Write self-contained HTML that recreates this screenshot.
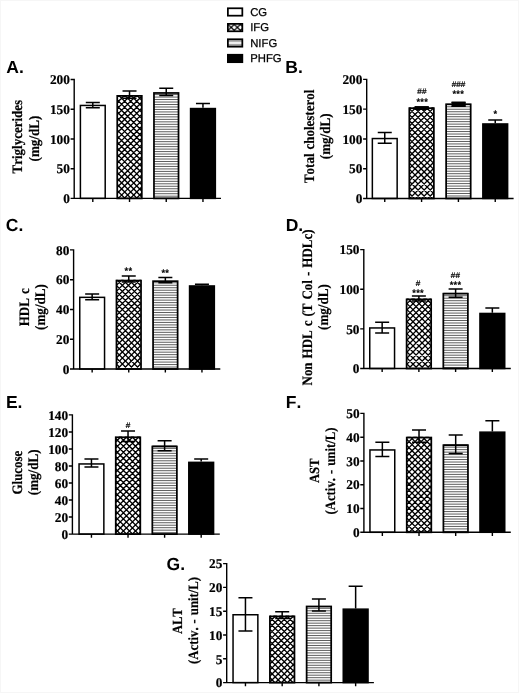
<!DOCTYPE html>
<html lang="en">
<head>
<meta charset="utf-8">
<title>Figure</title>
<style>
html,body{margin:0;padding:0;background:#fff;}
body{width:519px;height:693px;overflow:hidden;}
svg{display:block;}
text{fill:#000;font-kerning:none;text-rendering:geometricPrecision;}
</style>
</head>
<body>
<svg width="519" height="693" viewBox="0 0 519 693">
<defs><pattern id="xhl" width="6.2" height="6.2" patternUnits="userSpaceOnUse" patternTransform="translate(1.75 2.6)"><rect width="6.2" height="6.2" fill="#fff"/><path d="M-1 -1L7.2 7.2M-1 5.2L1 7.2M5.2 -1L7.2 1M-1 7.2L7.2 -1M-1 1L1 -1M5.2 7.2L7.2 5.2" stroke="#000" stroke-width="1.25" fill="none"/></pattern><clipPath id="c0"><rect x="117.25" y="95" width="24.55" height="103.4"/></clipPath><clipPath id="c1"><rect x="409.31" y="107.3" width="24.55" height="91.15"/></clipPath><clipPath id="c2"><rect x="116.47" y="279.7" width="24.55" height="89.3"/></clipPath><clipPath id="c3"><rect x="406.61" y="298.5" width="24.55" height="70"/></clipPath><clipPath id="c4"><rect x="115.75" y="436.4" width="24.55" height="97.7"/></clipPath><clipPath id="c5"><rect x="406.75" y="436.7" width="24.55" height="95.6"/></clipPath><clipPath id="c6"><rect x="269.91" y="615.5" width="24.55" height="67.1"/></clipPath></defs>
<rect x="0.5" y="0.5" width="518" height="692" fill="#fff" stroke="#f6f6f6"/>
<g><rect x="227.88" y="8.28" width="14.45" height="7.4" fill="#fff" stroke="#000" stroke-width="1.75"/>
<text x="250.2" y="15.7" font-family='"Liberation Sans", Arial, Helvetica, sans-serif' font-size="11.3" stroke="#000" stroke-width="0.25">CG</text>
<rect x="227.88" y="23.88" width="14.45" height="7.4" fill="url(#xhl)" stroke="#000" stroke-width="1.75"/>
<text x="250.2" y="31.3" font-family='"Liberation Sans", Arial, Helvetica, sans-serif' font-size="11.3" stroke="#000" stroke-width="0.25">IFG</text>
<rect x="228" y="39.9" width="14.5" height="2.3" fill="#b2b2b2"/><rect x="228" y="43.8" width="14.5" height="2.4" fill="#a6a6a6"/>
<rect x="227.88" y="39.27" width="14.45" height="7.4" fill="none" stroke="#000" stroke-width="1.75"/>
<text x="250.2" y="46.7" font-family='"Liberation Sans", Arial, Helvetica, sans-serif' font-size="11.3" stroke="#000" stroke-width="0.25">NIFG</text>
<rect x="227.88" y="54.77" width="14.45" height="7.4" fill="#000" stroke="#000" stroke-width="1.75"/>
<text x="250.2" y="62.2" font-family='"Liberation Sans", Arial, Helvetica, sans-serif' font-size="11.3" stroke="#000" stroke-width="0.25">PHFG</text></g>
<g><rect x="80.4" y="105.45" width="24.8" height="92.95" fill="#fff" stroke="#000" stroke-width="1.5"/>
<path d="M92.8 102.5V107.7 M85.8 102.5H99.8 M85.8 107.7H99.8" fill="none" stroke="#000" stroke-width="1.5"/>
<rect x="117.25" y="95.88" width="24.55" height="102.53" fill="#fff"/>
<path clip-path="url(#c0)" d="M116.37 201.84L142.67 228.15M116.37 195.8L142.67 222.1M116.37 189.75L142.67 216.05M116.37 183.69L142.67 210M116.37 177.65L142.67 203.95M116.37 171.6L142.67 197.9M116.37 165.55L142.67 191.85M116.37 159.5L142.67 185.8M116.37 153.45L142.67 179.75M116.37 147.4L142.67 173.7M116.37 141.35L142.67 167.65M116.37 135.3L142.67 161.6M116.37 129.25L142.67 155.55M116.37 123.2L142.67 149.5M116.37 117.15L142.67 143.45M116.37 111.1L142.67 137.4M116.37 105.05L142.67 131.35M116.37 99L142.67 125.3M116.37 92.95L142.67 119.25M116.37 86.9L142.67 113.2M116.37 80.85L142.67 107.15M116.37 74.8L142.67 101.1M116.37 68.75L142.67 95.05M116.37 62.7L142.67 89M116.37 91.31L142.67 65M116.37 97.36L142.67 71.06M116.37 103.41L142.67 77.11M116.37 109.46L142.67 83.16M116.37 115.51L142.67 89.21M116.37 121.56L142.67 95.26M116.37 127.61L142.67 101.31M116.37 133.66L142.67 107.36M116.37 139.71L142.67 113.41M116.37 145.76L142.67 119.46M116.37 151.81L142.67 125.51M116.37 157.86L142.67 131.56M116.37 163.91L142.67 137.61M116.37 169.96L142.67 143.66M116.37 176.01L142.67 149.71M116.37 182.06L142.67 155.76M116.37 188.11L142.67 161.81M116.37 194.16L142.67 167.86M116.37 200.21L142.67 173.91M116.37 206.26L142.67 179.96M116.37 212.31L142.67 186.01M116.37 218.36L142.67 192.06M116.37 224.41L142.67 198.11M116.37 230.46L142.67 204.16" fill="none" stroke="#000" stroke-width="1.35"/>
<rect x="117.25" y="95.88" width="24.55" height="102.53" fill="none" stroke="#000" stroke-width="1.75"/>
<path d="M129.52 91V98.2 M122.52 91H136.52 M122.52 98.2H136.52" fill="none" stroke="#000" stroke-width="1.5"/>
<path d="M153.97 94.59H178.52M153.97 97.07H178.52M153.97 99.54H178.52M153.97 102.02H178.52M153.97 104.5H178.52M153.97 106.98H178.52M153.97 109.46H178.52M153.97 111.93H178.52M153.97 114.41H178.52M153.97 116.89H178.52M153.97 119.37H178.52M153.97 121.85H178.52M153.97 124.32H178.52M153.97 126.8H178.52M153.97 129.28H178.52M153.97 131.76H178.52M153.97 134.24H178.52M153.97 136.71H178.52M153.97 139.19H178.52M153.97 141.67H178.52M153.97 144.15H178.52M153.97 146.63H178.52M153.97 149.1H178.52M153.97 151.58H178.52M153.97 154.06H178.52M153.97 156.54H178.52M153.97 159.02H178.52M153.97 161.49H178.52M153.97 163.97H178.52M153.97 166.45H178.52M153.97 168.93H178.52M153.97 171.41H178.52M153.97 173.88H178.52M153.97 176.36H178.52M153.97 178.84H178.52M153.97 181.32H178.52M153.97 183.8H178.52M153.97 186.27H178.52M153.97 188.75H178.52M153.97 191.23H178.52M153.97 193.71H178.52M153.97 196.19H178.52" fill="none" stroke="#5e5e5e" stroke-width="1"/>
<rect x="153.97" y="92.97" width="24.55" height="105.43" fill="none" stroke="#000" stroke-width="1.75"/>
<path d="M166.24 88.2V95.4 M159.24 88.2H173.24 M159.24 95.4H173.24" fill="none" stroke="#000" stroke-width="1.5"/>
<rect x="190.56" y="108.55" width="24.8" height="89.85" fill="#000" stroke="#000" stroke-width="1.5"/>
<path d="M202.96 103.6V107.8 M195.96 103.6H209.96" fill="none" stroke="#000" stroke-width="1.5"/>
<path d="M74.2 78.8V198.4H221 M70.6 79.5H74.2 M70.6 109.22H74.2 M70.6 138.95H74.2 M70.6 168.68H74.2 M70.6 198.4H74.2 M92.8 198.4V202 M129.52 198.4V202 M166.24 198.4V202 M202.96 198.4V202" fill="none" stroke="#000" stroke-width="1.4"/>
<g font-family='"Liberation Serif", "Times New Roman", Times, serif' font-weight="bold" font-size="13.3" text-anchor="end" stroke="#000" stroke-width="0.2"><text transform="translate(69.9 84.2) scale(1 1)">200</text><text transform="translate(69.9 113.92) scale(1 1)">150</text><text transform="translate(69.9 143.65) scale(1 1)">100</text><text transform="translate(69.9 173.38) scale(1 1)">50</text><text transform="translate(69.9 203.1) scale(1 1)">0</text></g>
<text transform="translate(22.1 136.7) rotate(-90) scale(0.9 1)" font-family='"Liberation Serif", "Times New Roman", Times, serif' font-weight="bold" font-size="14.4" word-spacing="0.9" text-anchor="middle" stroke="#000" stroke-width="0.2">Triglycerides</text>
<text transform="translate(38.5 138.5) rotate(-90) scale(0.9 1)" font-family='"Liberation Serif", "Times New Roman", Times, serif' font-weight="bold" font-size="14.54" word-spacing="0.9" text-anchor="middle" stroke="#000" stroke-width="0.2">(mg/dL)</text>
<text x="6.3" y="72.8" font-family='"Liberation Sans", Arial, Helvetica, sans-serif' font-weight="bold" font-size="17.5">A.</text></g>
<g><rect x="372.35" y="138.55" width="24.8" height="59.9" fill="#fff" stroke="#000" stroke-width="1.5"/>
<path d="M384.75 132.4V143.2 M377.75 132.4H391.75 M377.75 143.2H391.75" fill="none" stroke="#000" stroke-width="1.5"/>
<rect x="409.31" y="108.17" width="24.55" height="90.27" fill="#fff"/>
<path clip-path="url(#c1)" d="M408.43 198.56L434.73 224.86M408.43 192.5L434.73 218.81M408.43 186.45L434.73 212.75M408.43 180.4L434.73 206.7M408.43 174.35L434.73 200.65M408.43 168.3L434.73 194.6M408.43 162.25L434.73 188.55M408.43 156.2L434.73 182.5M408.43 150.15L434.73 176.45M408.43 144.1L434.73 170.4M408.43 138.05L434.73 164.35M408.43 132L434.73 158.3M408.43 125.95L434.73 152.25M408.43 119.9L434.73 146.2M408.43 113.85L434.73 140.15M408.43 107.8L434.73 134.1M408.43 101.75L434.73 128.05M408.43 95.7L434.73 122M408.43 89.65L434.73 115.95M408.43 83.6L434.73 109.9M408.43 77.55L434.73 103.85M408.43 102.89L434.73 76.59M408.43 108.94L434.73 82.64M408.43 114.99L434.73 88.69M408.43 121.04L434.73 94.74M408.43 127.09L434.73 100.79M408.43 133.14L434.73 106.84M408.43 139.19L434.73 112.89M408.43 145.24L434.73 118.94M408.43 151.29L434.73 124.99M408.43 157.34L434.73 131.04M408.43 163.39L434.73 137.09M408.43 169.44L434.73 143.14M408.43 175.49L434.73 149.19M408.43 181.54L434.73 155.24M408.43 187.59L434.73 161.29M408.43 193.64L434.73 167.34M408.43 199.69L434.73 173.39M408.43 205.74L434.73 179.44M408.43 211.79L434.73 185.49M408.43 217.84L434.73 191.54M408.43 223.89L434.73 197.59M408.43 229.94L434.73 203.64" fill="none" stroke="#000" stroke-width="1.35"/>
<rect x="409.31" y="108.17" width="24.55" height="90.27" fill="none" stroke="#000" stroke-width="1.75"/>
<path d="M421.58 106.9V109.2 M414.58 106.9H428.58 M414.58 109.2H428.58" fill="none" stroke="#000" stroke-width="1.5"/>
<path d="M446.13 104.31H470.69M446.13 106.78H470.69M446.13 109.26H470.69M446.13 111.74H470.69M446.13 114.22H470.69M446.13 116.7H470.69M446.13 119.17H470.69M446.13 121.65H470.69M446.13 124.13H470.69M446.13 126.61H470.69M446.13 129.09H470.69M446.13 131.56H470.69M446.13 134.04H470.69M446.13 136.52H470.69M446.13 139H470.69M446.13 141.48H470.69M446.13 143.95H470.69M446.13 146.43H470.69M446.13 148.91H470.69M446.13 151.39H470.69M446.13 153.87H470.69M446.13 156.34H470.69M446.13 158.82H470.69M446.13 161.3H470.69M446.13 163.78H470.69M446.13 166.26H470.69M446.13 168.73H470.69M446.13 171.21H470.69M446.13 173.69H470.69M446.13 176.17H470.69M446.13 178.65H470.69M446.13 181.12H470.69M446.13 183.6H470.69M446.13 186.08H470.69M446.13 188.56H470.69M446.13 191.04H470.69M446.13 193.51H470.69M446.13 195.99H470.69" fill="none" stroke="#5e5e5e" stroke-width="1"/>
<rect x="446.13" y="104.28" width="24.55" height="94.17" fill="none" stroke="#000" stroke-width="1.75"/>
<path d="M458.41 102.4V106.2 M451.41 102.4H465.41 M451.41 106.2H465.41" fill="none" stroke="#000" stroke-width="1.5"/>
<rect x="482.84" y="123.95" width="24.8" height="74.5" fill="#000" stroke="#000" stroke-width="1.5"/>
<path d="M495.24 120V123.2 M488.24 120H502.24" fill="none" stroke="#000" stroke-width="1.5"/>
<rect x="414.8" y="106.2" width="14" height="3.5" fill="#000"/>
<rect x="451.7" y="101.7" width="14" height="5.2" fill="#000"/>
<path d="M366.7 78.7V198.45H513.6 M363.1 79.4H366.7 M363.1 109.16H366.7 M363.1 138.93H366.7 M363.1 168.69H366.7 M363.1 198.45H366.7 M384.75 198.45V202.05 M421.58 198.45V202.05 M458.41 198.45V202.05 M495.24 198.45V202.05" fill="none" stroke="#000" stroke-width="1.4"/>
<g font-family='"Liberation Serif", "Times New Roman", Times, serif' font-weight="bold" font-size="13.3" text-anchor="end" stroke="#000" stroke-width="0.2"><text transform="translate(362.4 84.1) scale(1 1)">200</text><text transform="translate(362.4 113.86) scale(1 1)">150</text><text transform="translate(362.4 143.62) scale(1 1)">100</text><text transform="translate(362.4 173.39) scale(1 1)">50</text><text transform="translate(362.4 203.15) scale(1 1)">0</text></g>
<text transform="translate(314.2 136.4) rotate(-90) scale(0.9 1)" font-family='"Liberation Serif", "Times New Roman", Times, serif' font-weight="bold" font-size="14.4" word-spacing="0.9" text-anchor="middle" stroke="#000" stroke-width="0.2">Total cholesterol</text>
<text transform="translate(330.2 136.3) rotate(-90) scale(0.9 1)" font-family='"Liberation Serif", "Times New Roman", Times, serif' font-weight="bold" font-size="14.54" word-spacing="0.9" text-anchor="middle" stroke="#000" stroke-width="0.2">(mg/dL)</text>
<text x="285.3" y="72.9" font-family='"Liberation Sans", Arial, Helvetica, sans-serif' font-weight="bold" font-size="17.5">B.</text>
<text x="421.9" y="94.4" font-family='"Liberation Sans", Arial, Helvetica, sans-serif' font-size="8.2" stroke="#000" stroke-width="0.2" text-anchor="middle">##</text>
<text x="422.32" y="104.7" font-family='"Liberation Sans", Arial, Helvetica, sans-serif' font-size="9.4" letter-spacing="0.25" stroke="#000" stroke-width="0.35" text-anchor="middle">***</text>
<text x="458.6" y="87.2" font-family='"Liberation Sans", Arial, Helvetica, sans-serif' font-size="8.2" stroke="#000" stroke-width="0.2" text-anchor="middle">###</text>
<text x="458.32" y="97" font-family='"Liberation Sans", Arial, Helvetica, sans-serif' font-size="9.4" letter-spacing="0.25" stroke="#000" stroke-width="0.35" text-anchor="middle">***</text>
<text x="495.52" y="117" font-family='"Liberation Sans", Arial, Helvetica, sans-serif' font-size="9.4" letter-spacing="0.25" stroke="#000" stroke-width="0.35" text-anchor="middle">*</text></g>
<g><rect x="79.75" y="297.35" width="24.8" height="71.65" fill="#fff" stroke="#000" stroke-width="1.5"/>
<path d="M92.15 294.1V299.7 M85.15 294.1H99.15 M85.15 299.7H99.15" fill="none" stroke="#000" stroke-width="1.5"/>
<rect x="116.47" y="280.57" width="24.55" height="88.43" fill="#fff"/>
<path clip-path="url(#c2)" d="M115.6 369.32L141.9 395.62M115.6 363.27L141.9 389.57M115.6 357.22L141.9 383.52M115.6 351.17L141.9 377.47M115.6 345.12L141.9 371.42M115.6 339.07L141.9 365.37M115.6 333.02L141.9 359.32M115.6 326.97L141.9 353.27M115.6 320.92L141.9 347.22M115.6 314.87L141.9 341.17M115.6 308.82L141.9 335.12M115.6 302.77L141.9 329.07M115.6 296.72L141.9 323.02M115.6 290.67L141.9 316.97M115.6 284.62L141.9 310.92M115.6 278.57L141.9 304.87M115.6 272.52L141.9 298.82M115.6 266.47L141.9 292.77M115.6 260.42L141.9 286.72M115.6 254.37L141.9 280.67M115.6 248.32L141.9 274.62M115.6 273.97L141.9 247.67M115.6 280.02L141.9 253.72M115.6 286.07L141.9 259.77M115.6 292.12L141.9 265.82M115.6 298.17L141.9 271.88M115.6 304.23L141.9 277.92M115.6 310.27L141.9 283.98M115.6 316.33L141.9 290.02M115.6 322.38L141.9 296.08M115.6 328.43L141.9 302.12M115.6 334.48L141.9 308.18M115.6 340.53L141.9 314.23M115.6 346.58L141.9 320.28M115.6 352.63L141.9 326.33M115.6 358.68L141.9 332.38M115.6 364.73L141.9 338.43M115.6 370.78L141.9 344.48M115.6 376.83L141.9 350.53M115.6 382.88L141.9 356.58M115.6 388.93L141.9 362.63M115.6 394.98L141.9 368.68M115.6 401.03L141.9 374.73" fill="none" stroke="#000" stroke-width="1.35"/>
<rect x="116.47" y="280.57" width="24.55" height="88.43" fill="none" stroke="#000" stroke-width="1.75"/>
<path d="M128.75 276V282.1 M121.75 276H135.75 M121.75 282.1H135.75" fill="none" stroke="#000" stroke-width="1.5"/>
<path d="M153.07 282.78H177.62M153.07 285.26H177.62M153.07 287.74H177.62M153.07 290.22H177.62M153.07 292.7H177.62M153.07 295.17H177.62M153.07 297.65H177.62M153.07 300.13H177.62M153.07 302.61H177.62M153.07 305.09H177.62M153.07 307.56H177.62M153.07 310.04H177.62M153.07 312.52H177.62M153.07 315H177.62M153.07 317.48H177.62M153.07 319.95H177.62M153.07 322.43H177.62M153.07 324.91H177.62M153.07 327.39H177.62M153.07 329.87H177.62M153.07 332.34H177.62M153.07 334.82H177.62M153.07 337.3H177.62M153.07 339.78H177.62M153.07 342.26H177.62M153.07 344.73H177.62M153.07 347.21H177.62M153.07 349.69H177.62M153.07 352.17H177.62M153.07 354.65H177.62M153.07 357.12H177.62M153.07 359.6H177.62M153.07 362.08H177.62M153.07 364.56H177.62M153.07 367.04H177.62" fill="none" stroke="#5e5e5e" stroke-width="1"/>
<rect x="153.07" y="281.18" width="24.55" height="87.82" fill="none" stroke="#000" stroke-width="1.75"/>
<path d="M165.35 277.5V282.7 M158.35 277.5H172.35 M158.35 282.7H172.35" fill="none" stroke="#000" stroke-width="1.5"/>
<rect x="189.55" y="285.95" width="24.8" height="83.05" fill="#000" stroke="#000" stroke-width="1.5"/>
<path d="M201.95 284.3V285.2 M194.95 284.3H208.95" fill="none" stroke="#000" stroke-width="1.5"/>
<path d="M73.6 249.2V369H220.3 M70 249.9H73.6 M70 279.68H73.6 M70 309.45H73.6 M70 339.23H73.6 M70 369H73.6 M92.15 369V372.6 M128.75 369V372.6 M165.35 369V372.6 M201.95 369V372.6" fill="none" stroke="#000" stroke-width="1.4"/>
<g font-family='"Liberation Serif", "Times New Roman", Times, serif' font-weight="bold" font-size="13.3" text-anchor="end" stroke="#000" stroke-width="0.2"><text transform="translate(69.3 254.6) scale(1 1)">80</text><text transform="translate(69.3 284.38) scale(1 1)">60</text><text transform="translate(69.3 314.15) scale(1 1)">40</text><text transform="translate(69.3 343.93) scale(1 1)">20</text><text transform="translate(69.3 373.7) scale(1 1)">0</text></g>
<text transform="translate(29.4 307.3) rotate(-90) scale(0.9 1)" font-family='"Liberation Serif", "Times New Roman", Times, serif' font-weight="bold" font-size="14.4" word-spacing="0.9" text-anchor="middle" stroke="#000" stroke-width="0.2">HDL c</text>
<text transform="translate(45.2 307) rotate(-90) scale(0.9 1)" font-family='"Liberation Serif", "Times New Roman", Times, serif' font-weight="bold" font-size="14.54" word-spacing="0.9" text-anchor="middle" stroke="#000" stroke-width="0.2">(mg/dL)</text>
<text x="5.8" y="230.9" font-family='"Liberation Sans", Arial, Helvetica, sans-serif' font-weight="bold" font-size="17.5">C.</text>
<text x="128.52" y="273.8" font-family='"Liberation Sans", Arial, Helvetica, sans-serif' font-size="9.4" letter-spacing="0.25" stroke="#000" stroke-width="0.35" text-anchor="middle">**</text>
<text x="165.32" y="275.6" font-family='"Liberation Sans", Arial, Helvetica, sans-serif' font-size="9.4" letter-spacing="0.25" stroke="#000" stroke-width="0.35" text-anchor="middle">**</text></g>
<g><rect x="369.75" y="327.95" width="24.8" height="40.55" fill="#fff" stroke="#000" stroke-width="1.5"/>
<path d="M382.15 322.3V333.1 M375.15 322.3H389.15 M375.15 333.1H389.15" fill="none" stroke="#000" stroke-width="1.5"/>
<rect x="406.61" y="299.38" width="24.55" height="69.12" fill="#fff"/>
<path clip-path="url(#c3)" d="M405.73 368.9L432.03 395.2M405.73 362.85L432.03 389.15M405.73 356.8L432.03 383.11M405.73 350.75L432.03 377.06M405.73 344.7L432.03 371M405.73 338.65L432.03 364.95M405.73 332.61L432.03 358.9M405.73 326.56L432.03 352.86M405.73 320.5L432.03 346.81M405.73 314.45L432.03 340.75M405.73 308.4L432.03 334.71M405.73 302.36L432.03 328.66M405.73 296.31L432.03 322.61M405.73 290.25L432.03 316.56M405.73 284.21L432.03 310.5M405.73 278.16L432.03 304.46M405.73 272.11L432.03 298.41M405.73 292.79L432.03 266.49M405.73 298.84L432.03 272.54M405.73 304.89L432.03 278.59M405.73 310.94L432.03 284.64M405.73 316.99L432.03 290.69M405.73 323.04L432.03 296.74M405.73 329.09L432.03 302.79M405.73 335.14L432.03 308.84M405.73 341.19L432.03 314.89M405.73 347.24L432.03 320.94M405.73 353.29L432.03 326.99M405.73 359.34L432.03 333.04M405.73 365.39L432.03 339.09M405.73 371.44L432.03 345.14M405.73 377.49L432.03 351.19M405.73 383.54L432.03 357.24M405.73 389.59L432.03 363.29M405.73 395.64L432.03 369.34" fill="none" stroke="#000" stroke-width="1.35"/>
<rect x="406.61" y="299.38" width="24.55" height="69.12" fill="none" stroke="#000" stroke-width="1.75"/>
<path d="M418.88 296V301 M411.88 296H425.88 M411.88 301H425.88" fill="none" stroke="#000" stroke-width="1.5"/>
<path d="M443.33 293.25H467.88M443.33 295.73H467.88M443.33 298.21H467.88M443.33 300.69H467.88M443.33 303.17H467.88M443.33 305.64H467.88M443.33 308.12H467.88M443.33 310.6H467.88M443.33 313.08H467.88M443.33 315.56H467.88M443.33 318.03H467.88M443.33 320.51H467.88M443.33 322.99H467.88M443.33 325.47H467.88M443.33 327.95H467.88M443.33 330.42H467.88M443.33 332.9H467.88M443.33 335.38H467.88M443.33 337.86H467.88M443.33 340.34H467.88M443.33 342.81H467.88M443.33 345.29H467.88M443.33 347.77H467.88M443.33 350.25H467.88M443.33 352.73H467.88M443.33 355.2H467.88M443.33 357.68H467.88M443.33 360.16H467.88M443.33 362.64H467.88M443.33 365.12H467.88M443.33 367.59H467.88" fill="none" stroke="#5e5e5e" stroke-width="1"/>
<rect x="443.33" y="293.68" width="24.55" height="74.82" fill="none" stroke="#000" stroke-width="1.75"/>
<path d="M455.61 289.1V297.3 M448.61 289.1H462.61 M448.61 297.3H462.61" fill="none" stroke="#000" stroke-width="1.5"/>
<rect x="479.94" y="313.45" width="24.8" height="55.05" fill="#000" stroke="#000" stroke-width="1.5"/>
<path d="M492.34 308V312.7 M485.34 308H499.34" fill="none" stroke="#000" stroke-width="1.5"/>
<path d="M363.8 248.9V368.5H510.8 M360.2 249.6H363.8 M360.2 289.23H363.8 M360.2 328.87H363.8 M360.2 368.5H363.8 M382.15 368.5V372.1 M418.88 368.5V372.1 M455.61 368.5V372.1 M492.34 368.5V372.1" fill="none" stroke="#000" stroke-width="1.4"/>
<g font-family='"Liberation Serif", "Times New Roman", Times, serif' font-weight="bold" font-size="13.3" text-anchor="end" stroke="#000" stroke-width="0.2"><text transform="translate(359.5 254.3) scale(1 1)">150</text><text transform="translate(359.5 293.93) scale(1 1)">100</text><text transform="translate(359.5 333.57) scale(1 1)">50</text><text transform="translate(359.5 373.2) scale(1 1)">0</text></g>
<text transform="translate(312 307.5) rotate(-90) scale(0.9 1)" font-family='"Liberation Serif", "Times New Roman", Times, serif' font-weight="bold" font-size="14.4" word-spacing="0.9" text-anchor="middle" stroke="#000" stroke-width="0.2">Non HDL c (T Col - HDLc)</text>
<text transform="translate(328.3 307.1) rotate(-90) scale(0.9 1)" font-family='"Liberation Serif", "Times New Roman", Times, serif' font-weight="bold" font-size="14.54" word-spacing="0.9" text-anchor="middle" stroke="#000" stroke-width="0.2">(mg/dL)</text>
<text x="285.7" y="230.9" font-family='"Liberation Sans", Arial, Helvetica, sans-serif' font-weight="bold" font-size="17.5">D.</text>
<text x="418" y="285.9" font-family='"Liberation Sans", Arial, Helvetica, sans-serif' font-size="8.2" stroke="#000" stroke-width="0.2" text-anchor="middle">#</text>
<text x="418.12" y="296" font-family='"Liberation Sans", Arial, Helvetica, sans-serif' font-size="9.4" letter-spacing="0.25" stroke="#000" stroke-width="0.35" text-anchor="middle">***</text>
<text x="455.4" y="278.4" font-family='"Liberation Sans", Arial, Helvetica, sans-serif' font-size="8.2" stroke="#000" stroke-width="0.2" text-anchor="middle">##</text>
<text x="455.52" y="288.1" font-family='"Liberation Sans", Arial, Helvetica, sans-serif' font-size="9.4" letter-spacing="0.25" stroke="#000" stroke-width="0.35" text-anchor="middle">***</text></g>
<g><rect x="79.05" y="463.95" width="24.8" height="70.15" fill="#fff" stroke="#000" stroke-width="1.5"/>
<path d="M91.45 459.1V466.9 M84.45 459.1H98.45 M84.45 466.9H98.45" fill="none" stroke="#000" stroke-width="1.5"/>
<rect x="115.75" y="437.27" width="24.55" height="96.83" fill="#fff"/>
<path clip-path="url(#c4)" d="M114.88 534.56L141.18 560.86M114.88 528.51L141.18 554.81M114.88 522.46L141.18 548.76M114.88 516.4L141.18 542.71M114.88 510.36L141.18 536.65M114.88 504.31L141.18 530.61M114.88 498.25L141.18 524.56M114.88 492.2L141.18 518.5M114.88 486.15L141.18 512.45M114.88 480.1L141.18 506.4M114.88 474.05L141.18 500.35M114.88 468L141.18 494.3M114.88 461.95L141.18 488.25M114.88 455.9L141.18 482.2M114.88 449.85L141.18 476.15M114.88 443.8L141.18 470.1M114.88 437.75L141.18 464.05M114.88 431.7L141.18 458M114.88 425.65L141.18 451.95M114.88 419.6L141.18 445.9M114.88 413.55L141.18 439.85M114.88 407.5L141.18 433.8M114.88 430.59L141.18 404.29M114.88 436.64L141.18 410.34M114.88 442.69L141.18 416.39M114.88 448.74L141.18 422.44M114.88 454.79L141.18 428.49M114.88 460.84L141.18 434.54M114.88 466.89L141.18 440.59M114.88 472.94L141.18 446.64M114.88 478.99L141.18 452.69M114.88 485.04L141.18 458.74M114.88 491.09L141.18 464.79M114.88 497.14L141.18 470.84M114.88 503.19L141.18 476.89M114.88 509.24L141.18 482.94M114.88 515.29L141.18 488.99M114.88 521.34L141.18 495.04M114.88 527.39L141.18 501.09M114.88 533.44L141.18 507.14M114.88 539.49L141.18 513.19M114.88 545.54L141.18 519.24M114.88 551.59L141.18 525.29M114.88 557.64L141.18 531.34M114.88 563.69L141.18 537.39" fill="none" stroke="#000" stroke-width="1.35"/>
<rect x="115.75" y="437.27" width="24.55" height="96.83" fill="none" stroke="#000" stroke-width="1.75"/>
<path d="M128.03 430.9V441.6 M121.03 430.9H135.03 M121.03 441.6H135.03" fill="none" stroke="#000" stroke-width="1.5"/>
<path d="M152.33 445.92H176.88M152.33 448.4H176.88M152.33 450.88H176.88M152.33 453.35H176.88M152.33 455.83H176.88M152.33 458.31H176.88M152.33 460.79H176.88M152.33 463.27H176.88M152.33 465.74H176.88M152.33 468.22H176.88M152.33 470.7H176.88M152.33 473.18H176.88M152.33 475.66H176.88M152.33 478.13H176.88M152.33 480.61H176.88M152.33 483.09H176.88M152.33 485.57H176.88M152.33 488.05H176.88M152.33 490.52H176.88M152.33 493H176.88M152.33 495.48H176.88M152.33 497.96H176.88M152.33 500.44H176.88M152.33 502.91H176.88M152.33 505.39H176.88M152.33 507.87H176.88M152.33 510.35H176.88M152.33 512.83H176.88M152.33 515.3H176.88M152.33 517.78H176.88M152.33 520.26H176.88M152.33 522.74H176.88M152.33 525.22H176.88M152.33 527.69H176.88M152.33 530.17H176.88M152.33 532.65H176.88" fill="none" stroke="#5e5e5e" stroke-width="1"/>
<rect x="152.33" y="446.48" width="24.55" height="87.62" fill="none" stroke="#000" stroke-width="1.75"/>
<path d="M164.61 440.7V450.8 M157.61 440.7H171.61 M157.61 450.8H171.61" fill="none" stroke="#000" stroke-width="1.5"/>
<rect x="188.79" y="462.35" width="24.8" height="71.75" fill="#000" stroke="#000" stroke-width="1.5"/>
<path d="M201.19 459.1V461.6 M194.19 459.1H208.19" fill="none" stroke="#000" stroke-width="1.5"/>
<path d="M72.4 414.2V534.1H219.8 M68.8 414.9H72.4 M68.8 431.93H72.4 M68.8 448.96H72.4 M68.8 465.99H72.4 M68.8 483.01H72.4 M68.8 500.04H72.4 M68.8 517.07H72.4 M68.8 534.1H72.4 M91.45 534.1V537.7 M128.03 534.1V537.7 M164.61 534.1V537.7 M201.19 534.1V537.7" fill="none" stroke="#000" stroke-width="1.4"/>
<g font-family='"Liberation Serif", "Times New Roman", Times, serif' font-weight="bold" font-size="13.3" text-anchor="end" stroke="#000" stroke-width="0.2"><text transform="translate(68.1 419.6) scale(1 1)">140</text><text transform="translate(68.1 436.63) scale(1 1)">120</text><text transform="translate(68.1 453.66) scale(1 1)">100</text><text transform="translate(68.1 470.69) scale(1 1)">80</text><text transform="translate(68.1 487.71) scale(1 1)">60</text><text transform="translate(68.1 504.74) scale(1 1)">40</text><text transform="translate(68.1 521.77) scale(1 1)">20</text><text transform="translate(68.1 538.8) scale(1 1)">0</text></g>
<text transform="translate(21.5 472.6) rotate(-90) scale(0.9 1)" font-family='"Liberation Serif", "Times New Roman", Times, serif' font-weight="bold" font-size="14.4" word-spacing="0.9" text-anchor="middle" stroke="#000" stroke-width="0.2">Glucose</text>
<text transform="translate(37.7 472.3) rotate(-90) scale(0.9 1)" font-family='"Liberation Serif", "Times New Roman", Times, serif' font-weight="bold" font-size="14.54" word-spacing="0.9" text-anchor="middle" stroke="#000" stroke-width="0.2">(mg/dL)</text>
<text x="5.9" y="407.6" font-family='"Liberation Sans", Arial, Helvetica, sans-serif' font-weight="bold" font-size="17.5">E.</text>
<text x="128" y="428.2" font-family='"Liberation Sans", Arial, Helvetica, sans-serif' font-size="8.2" stroke="#000" stroke-width="0.2" text-anchor="middle">#</text></g>
<g><rect x="369.95" y="449.95" width="24.8" height="82.35" fill="#fff" stroke="#000" stroke-width="1.5"/>
<path d="M382.35 442.2V456.6 M375.35 442.2H389.35 M375.35 456.6H389.35" fill="none" stroke="#000" stroke-width="1.5"/>
<rect x="406.75" y="437.57" width="24.55" height="94.72" fill="#fff"/>
<path clip-path="url(#c5)" d="M405.87 535.29L432.17 561.6M405.87 529.25L432.17 555.54M405.87 523.19L432.17 549.5M405.87 517.14L432.17 543.44M405.87 511.09L432.17 537.39M405.87 505.04L432.17 531.35M405.87 499L432.17 525.29M405.87 492.94L432.17 519.25M405.87 486.89L432.17 513.19M405.87 480.84L432.17 507.14M405.87 474.79L432.17 501.1M405.87 468.75L432.17 495.05M405.87 462.69L432.17 489M405.87 456.64L432.17 482.94M405.87 450.6L432.17 476.89M405.87 444.55L432.17 470.85M405.87 438.5L432.17 464.8M405.87 432.44L432.17 458.75M405.87 426.39L432.17 452.69M405.87 420.35L432.17 446.65M405.87 414.3L432.17 440.6M405.87 408.25L432.17 434.55M405.87 432.7L432.17 406.4M405.87 438.75L432.17 412.45M405.87 444.8L432.17 418.5M405.87 450.85L432.17 424.55M405.87 456.9L432.17 430.6M405.87 462.95L432.17 436.65M405.87 469L432.17 442.7M405.87 475.05L432.17 448.75M405.87 481.1L432.17 454.8M405.87 487.15L432.17 460.85M405.87 493.2L432.17 466.9M405.87 499.25L432.17 472.95M405.87 505.3L432.17 479M405.87 511.35L432.17 485.05M405.87 517.4L432.17 491.1M405.87 523.45L432.17 497.15M405.87 529.5L432.17 503.2M405.87 535.55L432.17 509.25M405.87 541.6L432.17 515.3M405.87 547.65L432.17 521.35M405.87 553.7L432.17 527.4M405.87 559.75L432.17 533.45" fill="none" stroke="#000" stroke-width="1.35"/>
<rect x="406.75" y="437.57" width="24.55" height="94.72" fill="none" stroke="#000" stroke-width="1.75"/>
<path d="M419.02 429.9V442.2 M412.02 429.9H426.02 M412.02 442.2H426.02" fill="none" stroke="#000" stroke-width="1.5"/>
<path d="M443.41 444.68H467.96M443.41 447.15H467.96M443.41 449.63H467.96M443.41 452.11H467.96M443.41 454.59H467.96M443.41 457.07H467.96M443.41 459.54H467.96M443.41 462.02H467.96M443.41 464.5H467.96M443.41 466.98H467.96M443.41 469.46H467.96M443.41 471.93H467.96M443.41 474.41H467.96M443.41 476.89H467.96M443.41 479.37H467.96M443.41 481.85H467.96M443.41 484.32H467.96M443.41 486.8H467.96M443.41 489.28H467.96M443.41 491.76H467.96M443.41 494.24H467.96M443.41 496.71H467.96M443.41 499.19H467.96M443.41 501.67H467.96M443.41 504.15H467.96M443.41 506.63H467.96M443.41 509.1H467.96M443.41 511.58H467.96M443.41 514.06H467.96M443.41 516.54H467.96M443.41 519.02H467.96M443.41 521.49H467.96M443.41 523.97H467.96M443.41 526.45H467.96M443.41 528.93H467.96M443.41 531.41H467.96" fill="none" stroke="#5e5e5e" stroke-width="1"/>
<rect x="443.41" y="445.18" width="24.55" height="87.12" fill="none" stroke="#000" stroke-width="1.75"/>
<path d="M455.69 435.1V453.5 M448.69 435.1H462.69 M448.69 453.5H462.69" fill="none" stroke="#000" stroke-width="1.5"/>
<rect x="479.96" y="432.15" width="24.8" height="100.15" fill="#000" stroke="#000" stroke-width="1.5"/>
<path d="M492.36 420.7V431.4 M485.36 420.7H499.36" fill="none" stroke="#000" stroke-width="1.5"/>
<path d="M363.9 412.7V532.3H510.8 M360.3 413.4H363.9 M360.3 437.18H363.9 M360.3 460.96H363.9 M360.3 484.74H363.9 M360.3 508.52H363.9 M360.3 532.3H363.9 M382.35 532.3V535.9 M419.02 532.3V535.9 M455.69 532.3V535.9 M492.36 532.3V535.9" fill="none" stroke="#000" stroke-width="1.4"/>
<g font-family='"Liberation Serif", "Times New Roman", Times, serif' font-weight="bold" font-size="13.3" text-anchor="end" stroke="#000" stroke-width="0.2"><text transform="translate(359.6 418.1) scale(1 1)">50</text><text transform="translate(359.6 441.88) scale(1 1)">40</text><text transform="translate(359.6 465.66) scale(1 1)">30</text><text transform="translate(359.6 489.44) scale(1 1)">20</text><text transform="translate(359.6 513.22) scale(1 1)">10</text><text transform="translate(359.6 537) scale(1 1)">0</text></g>
<text transform="translate(318.7 470.8) rotate(-90) scale(0.9 1)" font-family='"Liberation Serif", "Times New Roman", Times, serif' font-weight="bold" font-size="13.97" word-spacing="0.9" text-anchor="middle" stroke="#000" stroke-width="0.2">AST</text>
<text transform="translate(334.6 471) rotate(-90) scale(0.9 1)" font-family='"Liberation Serif", "Times New Roman", Times, serif' font-weight="bold" font-size="14.18" word-spacing="0.9" text-anchor="middle" stroke="#000" stroke-width="0.2">(Activ. - unit/L)</text>
<text x="285.7" y="407.6" font-family='"Liberation Sans", Arial, Helvetica, sans-serif' font-weight="bold" font-size="17.5">F.</text></g>
<g><rect x="233.05" y="614.75" width="24.8" height="67.85" fill="#fff" stroke="#000" stroke-width="1.5"/>
<path d="M245.45 597.7V631 M238.45 597.7H252.45 M238.45 631H252.45" fill="none" stroke="#000" stroke-width="1.5"/>
<rect x="269.91" y="616.38" width="24.55" height="66.23" fill="#fff"/>
<path clip-path="url(#c6)" d="M269.03 682.81L295.33 709.11M269.03 676.76L295.33 703.06M269.03 670.71L295.33 697.01M269.03 664.65L295.33 690.96M269.03 658.61L295.33 684.9M269.03 652.56L295.33 678.86M269.03 646.5L295.33 672.81M269.03 640.45L295.33 666.75M269.03 634.4L295.33 660.7M269.03 628.36L295.33 654.65M269.03 622.3L295.33 648.61M269.03 616.25L295.33 642.55M269.03 610.2L295.33 636.5M269.03 604.15L295.33 630.45M269.03 598.1L295.33 624.4M269.03 592.05L295.33 618.35M269.03 586L295.33 612.3M269.03 610.39L295.33 584.1M269.03 616.44L295.33 590.14M269.03 622.49L295.33 596.19M269.03 628.54L295.33 602.24M269.03 634.59L295.33 608.29M269.03 640.64L295.33 614.34M269.03 646.69L295.33 620.39M269.03 652.74L295.33 626.44M269.03 658.79L295.33 632.49M269.03 664.84L295.33 638.54M269.03 670.89L295.33 644.59M269.03 676.94L295.33 650.64M269.03 682.99L295.33 656.69M269.03 689.04L295.33 662.74M269.03 695.09L295.33 668.79M269.03 701.14L295.33 674.84M269.03 707.19L295.33 680.89M269.03 713.24L295.33 686.94" fill="none" stroke="#000" stroke-width="1.35"/>
<rect x="269.91" y="616.38" width="24.55" height="66.23" fill="none" stroke="#000" stroke-width="1.75"/>
<path d="M282.18 611.8V618.6 M275.18 611.8H289.18 M275.18 618.6H289.18" fill="none" stroke="#000" stroke-width="1.5"/>
<path d="M306.63 608.3H331.19M306.63 610.78H331.19M306.63 613.25H331.19M306.63 615.73H331.19M306.63 618.21H331.19M306.63 620.69H331.19M306.63 623.17H331.19M306.63 625.64H331.19M306.63 628.12H331.19M306.63 630.6H331.19M306.63 633.08H331.19M306.63 635.56H331.19M306.63 638.03H331.19M306.63 640.51H331.19M306.63 642.99H331.19M306.63 645.47H331.19M306.63 647.95H331.19M306.63 650.42H331.19M306.63 652.9H331.19M306.63 655.38H331.19M306.63 657.86H331.19M306.63 660.34H331.19M306.63 662.81H331.19M306.63 665.29H331.19M306.63 667.77H331.19M306.63 670.25H331.19M306.63 672.73H331.19M306.63 675.2H331.19M306.63 677.68H331.19M306.63 680.16H331.19" fill="none" stroke="#5e5e5e" stroke-width="1"/>
<rect x="306.63" y="606.48" width="24.55" height="76.12" fill="none" stroke="#000" stroke-width="1.75"/>
<path d="M318.91 599.1V610.9 M311.91 599.1H325.91 M311.91 610.9H325.91" fill="none" stroke="#000" stroke-width="1.5"/>
<rect x="343.24" y="609.15" width="24.8" height="73.45" fill="#000" stroke="#000" stroke-width="1.5"/>
<path d="M355.64 586.2V608.4 M348.64 586.2H362.64" fill="none" stroke="#000" stroke-width="1.5"/>
<path d="M226.7 562.9V682.6H373.9 M223.1 563.6H226.7 M223.1 587.4H226.7 M223.1 611.2H226.7 M223.1 635H226.7 M223.1 658.8H226.7 M223.1 682.6H226.7 M245.45 682.6V686.2 M282.18 682.6V686.2 M318.91 682.6V686.2 M355.64 682.6V686.2" fill="none" stroke="#000" stroke-width="1.4"/>
<g font-family='"Liberation Serif", "Times New Roman", Times, serif' font-weight="bold" font-size="13.3" text-anchor="end" stroke="#000" stroke-width="0.2"><text transform="translate(222.4 568.3) scale(1 1)">25</text><text transform="translate(222.4 592.1) scale(1 1)">20</text><text transform="translate(222.4 615.9) scale(1 1)">15</text><text transform="translate(222.4 639.7) scale(1 1)">10</text><text transform="translate(222.4 663.5) scale(1 1)">5</text><text transform="translate(222.4 687.3) scale(1 1)">0</text></g>
<text transform="translate(182 621.2) rotate(-90) scale(0.9 1)" font-family='"Liberation Serif", "Times New Roman", Times, serif' font-weight="bold" font-size="13.97" word-spacing="0.9" text-anchor="middle" stroke="#000" stroke-width="0.2">ALT</text>
<text transform="translate(197.7 620.4) rotate(-90) scale(0.9 1)" font-family='"Liberation Serif", "Times New Roman", Times, serif' font-weight="bold" font-size="14.18" word-spacing="0.9" text-anchor="middle" stroke="#000" stroke-width="0.2">(Activ. - unit/L)</text>
<text x="166.6" y="569.7" font-family='"Liberation Sans", Arial, Helvetica, sans-serif' font-weight="bold" font-size="17.5">G.</text></g>
</svg>
</body>
</html>
